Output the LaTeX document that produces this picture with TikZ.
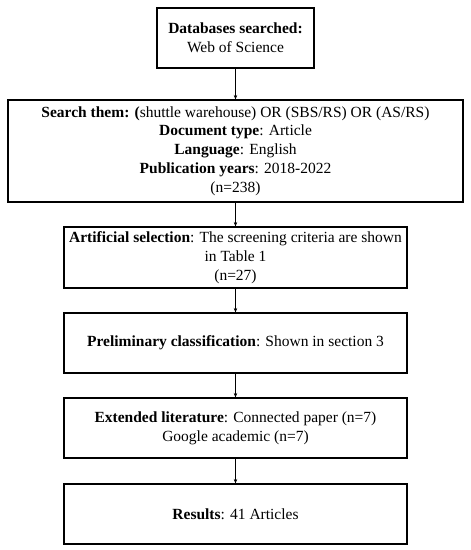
\documentclass[tikz,border=0pt]{standalone}
\usepackage{fontspec}
\setmainfont{Liberation Serif}
\usetikzlibrary{arrows.meta}
\begin{document}
\begin{tikzpicture}[x=1pt,y=-1pt,
  box/.style={draw, line width=1.1pt, align=center, inner sep=0pt, font=\fontsize{15.5}{18.8}\selectfont},
  arr/.style={-{Stealth[length=4.5pt,width=3.5pt]}, line width=0.6pt}]
\useasboundingbox[fill=white] (0,0) rectangle (471,550);
\node[box, minimum width=157, minimum height=60] (b1) at (235.5,38) {\textbf{Databases searched:}\\Web of Science};
\node[box, minimum width=455, minimum height=102] (b2) at (235.5,151) {\textbf{Search them: (}shuttle warehouse) OR (SBS/RS) OR (AS/RS)\\\textbf{Document type}: Article\\\textbf{Language}: English\\\textbf{Publication years}: 2018-2022\\(n=238)};
\node[box, minimum width=343, minimum height=61] (b3) at (235.5,257.5) {\textbf{Artificial selection}: The screening criteria are shown\\in Table 1\\(n=27)};
\node[box, minimum width=343, minimum height=60] (b4) at (235.5,343) {\textbf{Preliminary classification}: Shown in section 3};
\node[box, minimum width=343, minimum height=60] (b5) at (235.5,428) {\textbf{Extended literature}: Connected paper (n=7)\\Google academic (n=7)};
\node[box, minimum width=343, minimum height=60] (b6) at (235.5,514) {\textbf{Results}: 41 Articles};
\draw[arr] (b1) -- (b2);
\draw[arr] (b2) -- (b3);
\draw[arr] (b3) -- (b4);
\draw[arr] (b4) -- (b5);
\draw[arr] (b5) -- (b6);
\end{tikzpicture}
\end{document}
